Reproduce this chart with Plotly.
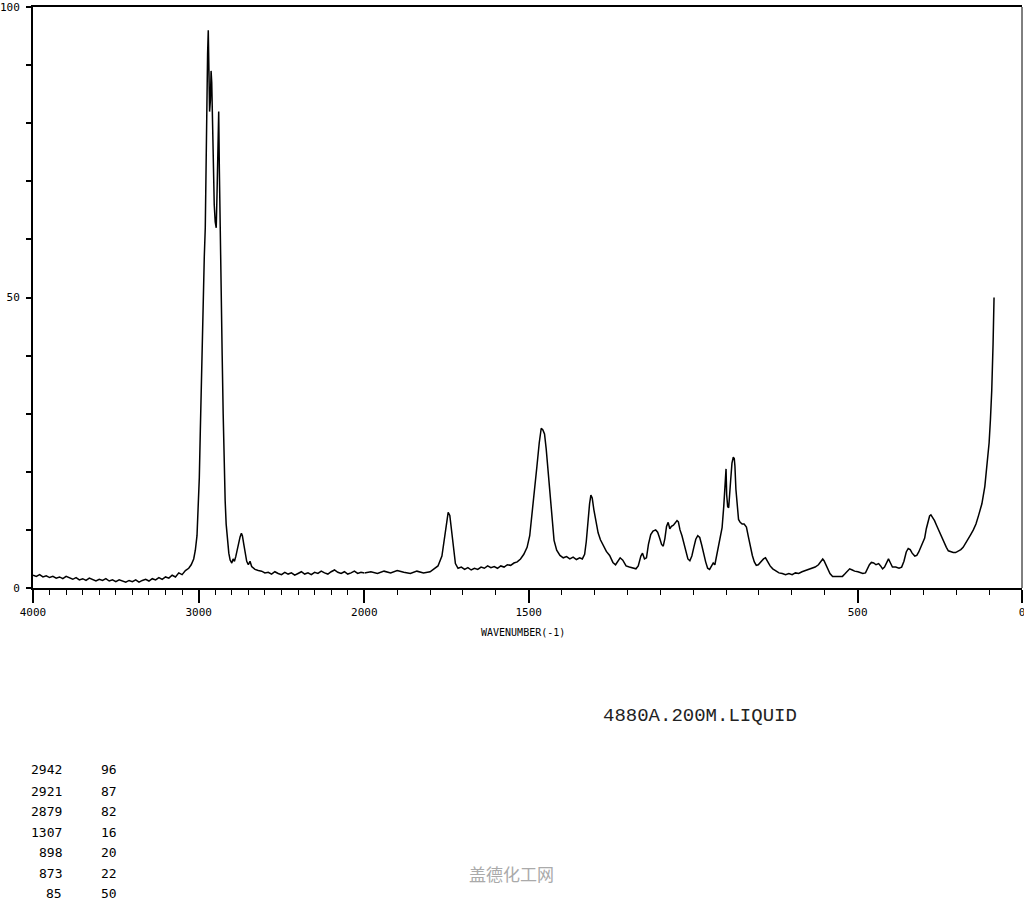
import plotly.graph_objects as go

# ---- spectrum data (wavenumber cm-1, relative intensity) ----
wavenumber = [
    4000, 3980, 3960, 3940, 3920, 3900, 3880, 3860, 3840, 3820, 3800, 3780, 3760, 3740, 3720,
    3700, 3680, 3660, 3640, 3620, 3600, 3580, 3560, 3540, 3520, 3500, 3480, 3460, 3440, 3420,
    3400, 3380, 3360, 3340, 3320, 3300, 3280, 3260, 3240, 3220, 3200, 3180, 3160, 3140, 3120,
    3100, 3080, 3060, 3045, 3030, 3020, 3010, 3003, 2996, 2990, 2984, 2978, 2972, 2966, 2960,
    2955, 2951, 2946, 2942, 2938, 2934, 2929, 2925, 2921, 2917, 2912, 2906, 2900, 2894, 2889,
    2884, 2879, 2875, 2870, 2864, 2858, 2852, 2846, 2840, 2834, 2826, 2818, 2810, 2800, 2792,
    2784, 2776, 2768, 2760, 2750, 2742, 2736, 2728, 2720, 2710, 2700, 2690, 2680, 2660, 2640,
    2620, 2600, 2580, 2560, 2540, 2520, 2500, 2480, 2460, 2440, 2420, 2400, 2380, 2360, 2340,
    2320, 2300, 2280, 2260, 2240, 2220, 2200, 2180, 2160, 2140, 2120, 2100, 2080, 2060, 2040,
    2020, 2000,
    1980, 1960, 1940, 1920, 1900, 1880, 1860, 1840, 1820, 1800, 1790, 1776, 1764, 1756, 1750,
    1745, 1740, 1735, 1729, 1723, 1715, 1705, 1695, 1685, 1675, 1665, 1655, 1645, 1635, 1625,
    1615, 1605, 1595, 1585, 1575, 1565, 1555, 1545, 1535, 1525, 1515, 1505, 1497, 1490, 1483,
    1475, 1468, 1462, 1457, 1452, 1447, 1441, 1435, 1429, 1423, 1415, 1405, 1395, 1385, 1375,
    1365, 1355, 1345, 1337, 1330, 1325, 1320, 1315, 1311, 1307, 1302, 1296, 1289, 1282, 1274,
    1264, 1254, 1244, 1236, 1229, 1222, 1214, 1204, 1194, 1184, 1174, 1167, 1159, 1154, 1148,
    1142, 1136, 1129, 1122, 1114, 1108, 1102, 1096, 1091, 1086, 1081, 1076, 1071, 1066, 1060,
    1054, 1049, 1045, 1040, 1034, 1028, 1022, 1016, 1010, 1004, 998, 992, 986, 980, 974,
    968, 962, 956, 950, 944, 939, 934, 929, 924, 918, 912, 907, 903, 900, 898,
    895, 892, 889, 886, 882, 878, 875, 873, 870, 866, 862, 857, 851, 845, 838,
    832, 826, 820, 814, 808, 802, 794, 786, 780, 774, 766, 758, 749, 739, 729,
    719, 709, 699, 689, 679, 669, 659, 649, 639, 629, 619, 611, 606, 602, 596,
    590, 584, 576, 566, 556, 546, 539, 532, 524, 516, 509, 499, 491, 484, 476,
    470, 464, 458, 451, 444, 436, 430, 424, 418, 411, 406, 400, 394, 384, 374,
    366, 359, 352, 346, 340, 334, 326, 320, 314, 308, 302, 296, 291, 286, 281,
    277, 272, 266, 260, 254, 248, 242, 236, 230, 224, 216, 209, 202, 194, 186,
    179, 172, 164, 156, 148, 140, 132, 122, 113, 106, 100, 96, 92, 88, 85,
]
intensity = [
    2.2, 2.0, 2.3, 1.9, 2.1, 1.8, 2.0, 1.7, 1.9, 1.6, 2.0, 1.7, 1.5, 1.8, 1.4,
    1.6, 1.3, 1.7, 1.4, 1.2, 1.5, 1.3, 1.6, 1.2, 1.4, 1.1, 1.4, 1.2, 1.0, 1.3,
    1.1, 1.4, 1.0, 1.3, 1.5, 1.2, 1.6, 1.4, 1.8, 1.5, 1.9, 1.7, 2.2, 1.9, 2.6,
    2.3, 3.0, 3.4, 4.0, 5.0, 6.5, 9.0, 13.0, 19.0, 27.0, 36.0, 44.0, 50.0, 57.0, 62.0,
    75.0, 84.0, 92.0, 96.0, 88.0, 82.0, 84.0, 89.0, 87.0, 82.0, 72.0, 66.0, 63.0, 62.0, 68.0,
    78.0, 82.0, 72.0, 60.0, 50.0, 40.0, 30.0, 21.0, 15.0, 11.0, 8.0, 6.0, 4.8, 4.3, 5.0,
    4.6, 5.4, 6.5, 7.5, 8.8, 9.4, 9.0, 7.6, 6.0, 4.6, 4.0, 4.6, 3.7, 3.2, 3.0,
    2.9, 2.6, 2.7, 2.4, 2.8, 2.5, 2.3, 2.7, 2.4, 2.6, 2.2, 2.5, 2.8, 2.4, 2.6,
    2.3, 2.7, 2.5, 2.9, 2.6, 2.4, 2.8, 3.1, 2.7, 2.5, 2.8, 2.4, 2.6, 2.9, 2.5,
    2.7, 2.6,
    2.8, 2.5, 2.9, 2.6, 3.0, 2.7, 2.5, 2.9, 2.6, 2.8, 3.2, 3.8, 5.5, 8.5, 11.5,
    13.0, 12.5, 10.0, 6.5, 4.2, 3.4, 3.6, 3.2, 3.5, 3.1, 3.4, 3.2, 3.6, 3.4, 3.8,
    3.5, 3.7, 3.4, 3.8, 3.6, 4.0, 3.9, 4.3, 4.5, 5.0, 5.8, 7.0, 9.0, 12.5, 16.5,
    21.0, 25.0, 27.5, 27.2, 26.5, 24.0, 20.0, 15.5, 11.0, 8.2, 6.5, 5.6, 5.2, 5.4, 5.0,
    5.3, 4.9, 5.2, 5.0, 5.8, 8.0, 11.5, 14.5, 16.0, 15.5, 13.5, 11.5, 9.5, 8.3, 7.4,
    6.3, 5.6, 4.4, 4.0, 4.6, 5.2, 4.8, 3.8, 3.6, 3.4, 3.3, 3.8, 5.5, 6.0, 5.0,
    5.2, 7.5, 9.2, 9.8, 10.0, 9.6, 8.6, 7.5, 7.2, 8.5, 10.6, 11.3, 10.2, 10.6, 10.8,
    11.2, 11.6, 11.4, 10.0, 9.0, 7.6, 6.2, 5.0, 4.7, 5.5, 7.0, 8.4, 9.0, 8.7, 7.4,
    5.6, 4.5, 3.4, 3.2, 3.8, 4.3, 4.0, 5.5, 7.0, 8.8, 10.4, 14.0, 18.0, 20.5, 16.0,
    14.0, 13.8, 15.5, 18.5, 21.5, 22.5, 22.3, 21.0, 17.0, 14.0, 11.8, 11.3, 11.0, 11.0, 10.5,
    8.8, 7.0, 5.6, 4.5, 3.9, 4.0, 4.6, 5.0, 5.2, 4.6, 3.8, 3.3, 3.0, 2.6, 2.5,
    2.3, 2.5, 2.3, 2.6, 2.5, 2.8, 3.0, 3.2, 3.3, 3.6, 4.0, 4.6, 5.0, 4.7, 4.0,
    3.2, 2.5, 2.0, 2.0, 2.0, 2.0, 2.4, 2.9, 3.3, 3.1, 2.9, 2.8, 2.6, 2.5, 2.6,
    3.4, 4.0, 4.4, 4.3, 4.0, 4.2, 3.8, 3.3, 3.6, 4.4, 5.0, 4.3, 3.6, 3.6, 3.4,
    3.6, 4.6, 6.2, 6.8, 6.6, 6.0, 5.5, 5.6, 6.2, 7.0, 7.6, 8.6, 10.2, 11.5, 12.4,
    12.6, 12.2, 11.6, 10.8, 10.0, 9.4, 8.4, 7.6, 7.0, 6.4, 6.2, 6.1, 6.1, 6.3, 6.6,
    7.0, 7.6, 8.4, 9.2, 10.0, 11.0, 12.5, 14.5, 17.5, 21.0, 25.0, 29.0, 34.0, 42.0, 50.0,
]

# ---- axis ticks ----
left_ticks = [4000, 3000, 2000]
right_ticks = [1500, 500, 0]
y_ticks = [0, 10, 20, 30, 40, 50, 60, 70, 80, 90, 100]
y_ticktext = ["0", "", "", "", "", "50", "", "", "", "", "100"]

# ---- peak table ----
peak_wn = ["2942", "2921", "2879", "1307", "898", "873", "85"]
peak_val = ["96", "87", "82", "16", "20", "22", "50"]

x_title = "WAVENUMBER(-1)"
sample_label = "4880A.200M.LIQUID"
watermark = "盖德化工网"

# ---- layout geometry ----
W, H = 1024, 900
ML, MR, MT, MB = 33, 2, 7, 312
PW = W - ML - MR
PH = H - MT - MB
SPLIT = 0.335


def px_x(px):
    return (px - ML) / PW


def px_y(py):
    return (H - MB - py) / PH


left_w = [w for w in wavenumber if w >= 2000]
left_i = [v for w, v in zip(wavenumber, intensity) if w >= 2000]
right_w = [w for w in wavenumber if w <= 2000]
right_i = [v for w, v in zip(wavenumber, intensity) if w <= 2000]

line = dict(color="black", width=1.5)
fig = go.Figure()
fig.add_trace(go.Scatter(x=left_w, y=left_i, mode="lines", line=line,
                         xaxis="x", yaxis="y", showlegend=False, hoverinfo="x+y"))
fig.add_trace(go.Scatter(x=right_w, y=right_i, mode="lines", line=line,
                         xaxis="x2", yaxis="y", showlegend=False, hoverinfo="x+y"))

tickfont = dict(family="DejaVu Sans Mono", size=11, color="black")
xcommon = dict(
    showline=True, linewidth=2, linecolor="black", mirror=True,
    showgrid=False, zeroline=False, ticks="outside", ticklen=13, tickwidth=1.5,
    tickcolor="black", tickfont=tickfont, tickmode="array", automargin=False,
    ticklabeloverflow="allow",
    minor=dict(ticks="outside", dtick=100, ticklen=5, tickwidth=1, tickcolor="black", showgrid=False),
    anchor="y", fixedrange=True,
)
fig.update_layout(
    width=W, height=H, autosize=False,
    margin=dict(l=ML, r=MR, t=MT, b=MB, pad=0, autoexpand=False),
    paper_bgcolor="white", plot_bgcolor="white",
    xaxis=dict(domain=[0, SPLIT], range=[4000, 2000], tickvals=left_ticks,
               ticktext=[str(t) for t in left_ticks], **xcommon),
    xaxis2=dict(domain=[SPLIT, 1], range=[2000, 0], tickvals=right_ticks,
                ticktext=[str(t) for t in right_ticks], **xcommon),
    yaxis=dict(domain=[0, 1], range=[0, 100], anchor="x", showline=True, linewidth=2,
               linecolor="black", showgrid=False, zeroline=False, ticks="outside",
               ticklen=5, tickwidth=1.5, tickcolor="black", tickmode="array",
               tickvals=y_ticks, ticktext=y_ticktext, tickfont=tickfont,
               ticklabelstandoff=4, automargin=False, ticklabeloverflow="allow",
               fixedrange=True),
    shapes=[dict(type="line", xref="paper", yref="paper", x0=1, x1=1, y0=0, y1=1,
                 line=dict(color="black", width=1))],
)

annotations = [
    dict(text=x_title, x=px_x(523), y=px_y(632), xref="paper", yref="paper",
         showarrow=False, font=dict(family="DejaVu Sans Mono", size=10, color="black"),
         xanchor="center", yanchor="middle"),
    dict(text=sample_label, x=px_x(700), y=px_y(716), xref="paper", yref="paper",
         showarrow=False, font=dict(family="Liberation Mono", size=19, color="#222"),
         xanchor="center", yanchor="middle"),
    dict(text=watermark, x=px_x(511), y=px_y(873), xref="paper", yref="paper",
         showarrow=False, font=dict(family="Noto Sans CJK SC", size=17, color="#aaaaaa"),
         xanchor="center", yanchor="middle"),
]
row_y = [770, 791, 811, 832, 852, 873, 893]
for wn, val, ry in zip(peak_wn, peak_val, row_y):
    annotations.append(dict(text=wn, x=px_x(64), y=px_y(ry), xref="paper", yref="paper",
                            showarrow=False, xanchor="right", yanchor="middle",
                            font=dict(family="DejaVu Sans Mono", size=13, color="black")))
    annotations.append(dict(text=val, x=px_x(119), y=px_y(ry), xref="paper", yref="paper",
                            showarrow=False, xanchor="right", yanchor="middle",
                            font=dict(family="DejaVu Sans Mono", size=13, color="black")))
fig.update_layout(annotations=annotations)

fig.write_html("out.html", config={"displayModeBar": False, "responsive": False},
               post_script="document.body.style.margin='0';")
